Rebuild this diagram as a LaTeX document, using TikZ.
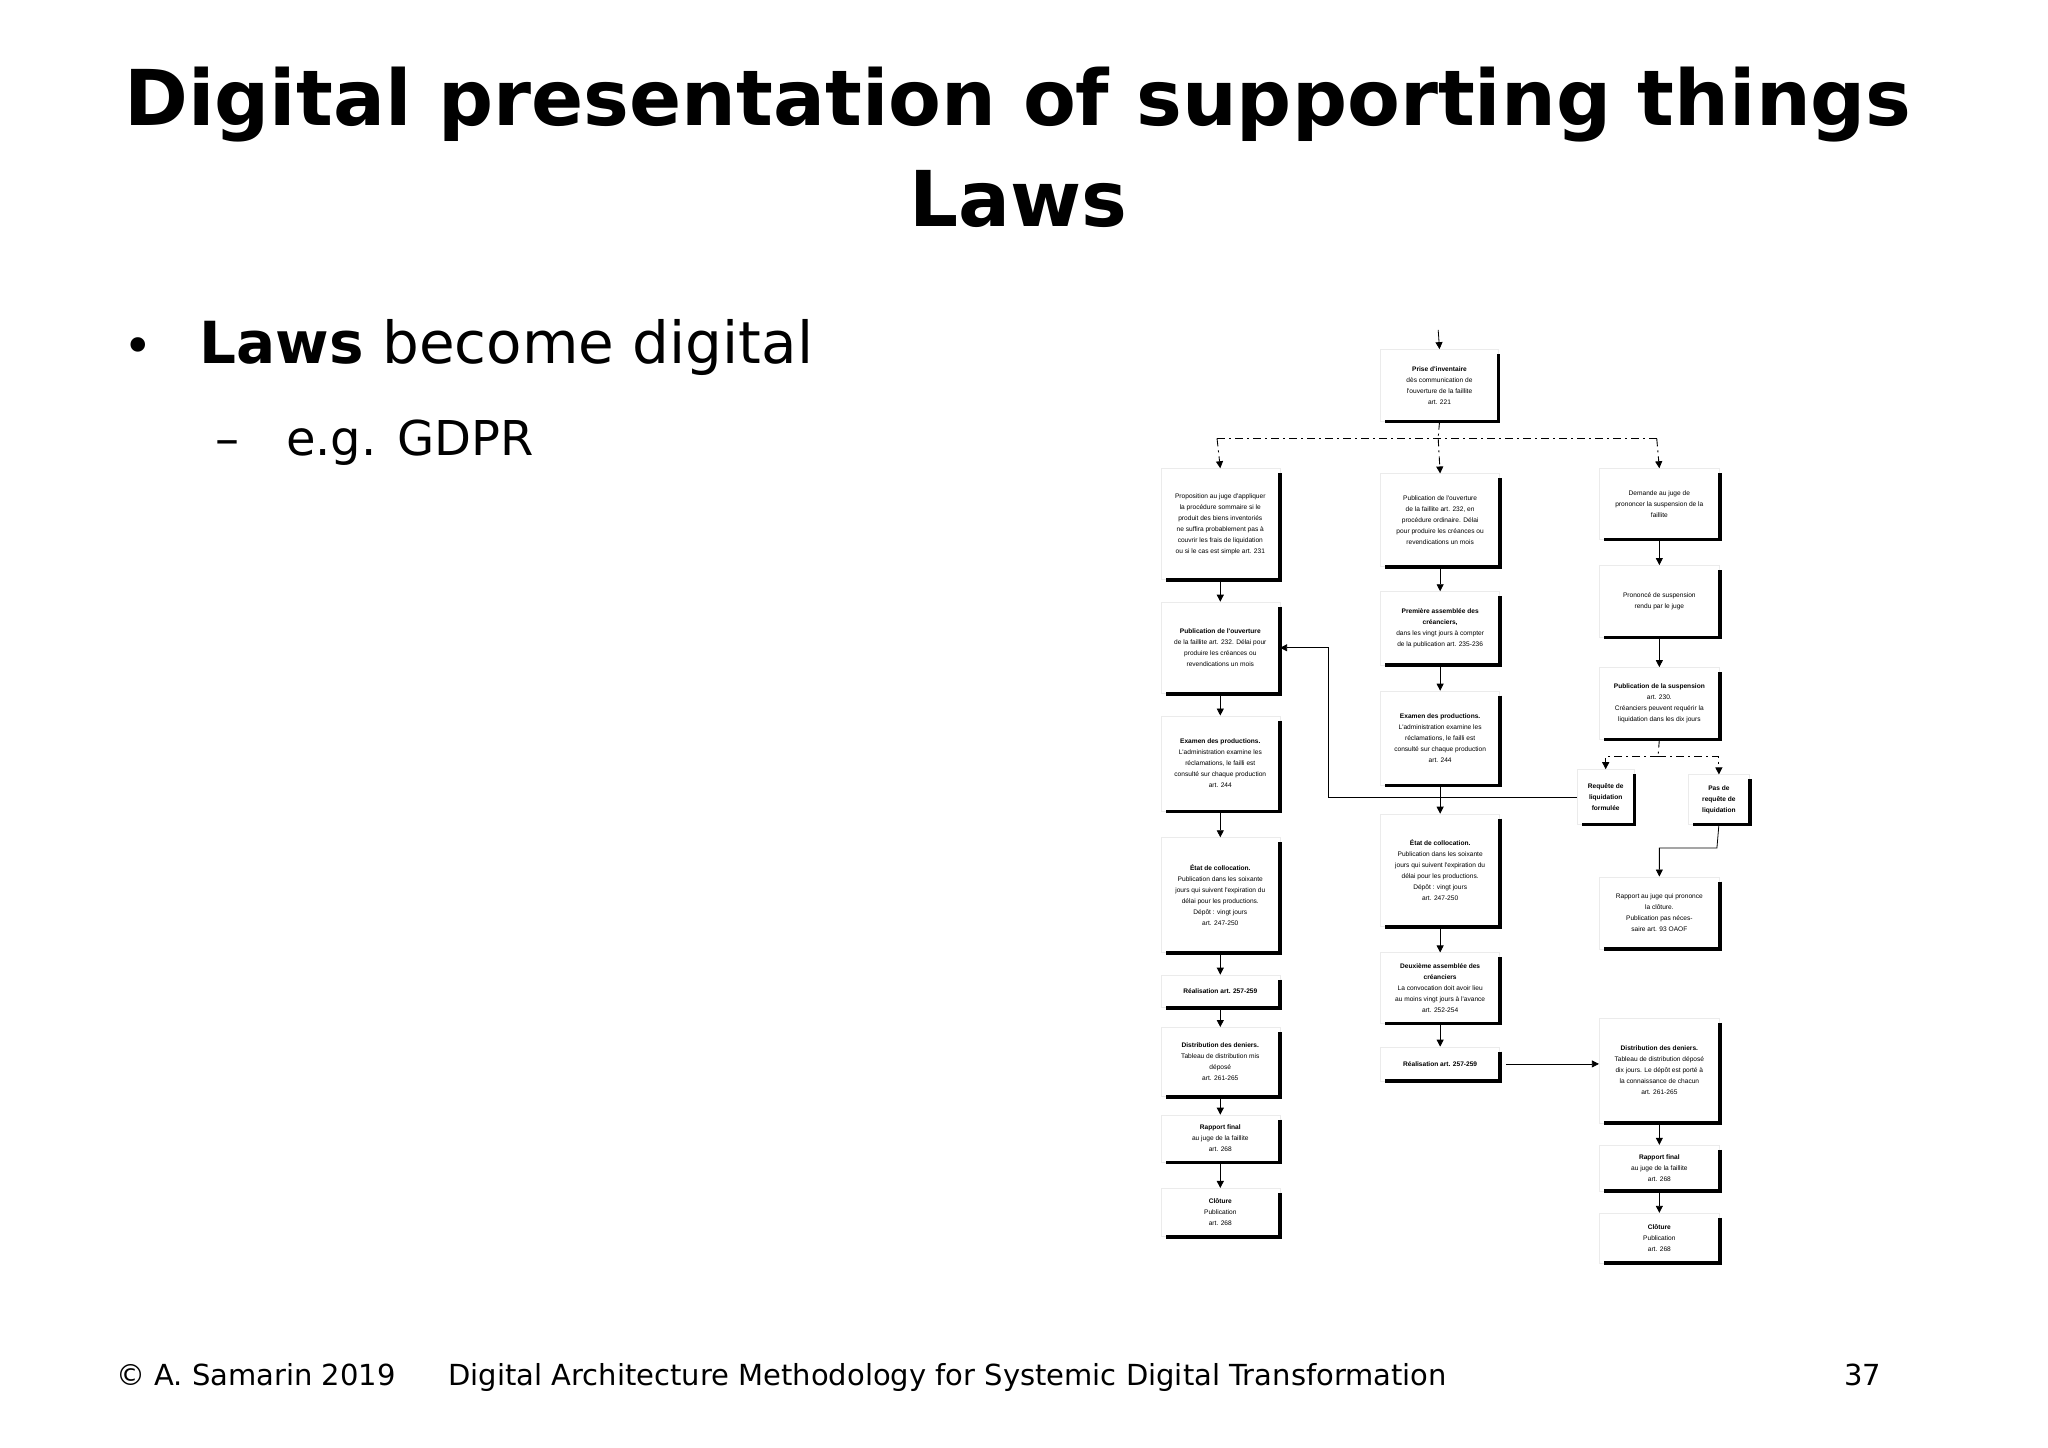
\documentclass[tikz,border=0pt]{standalone}
\usepackage{fontspec}
\setmainfont{DejaVu Sans}
\newfontfamily\boxfont{Liberation Sans}
\usetikzlibrary{arrows.meta}
\newcommand\bx[6]{%
 \node[bxs,minimum width={(#4-#2)*1.3086pt},minimum height={(#5-#3)*1.3086pt}] (#1) at ({(#2+#4)/2},{(#3+#5)/2}) {#6};
 \draw[line width=3.5pt] ([yshift=-5pt]#1.north east) -- (#1.south east) -- ([xshift=5pt]#1.south west);}
\begin{document}
\begin{tikzpicture}[x=1.3086pt,y=-1.3086pt,
 bxs/.style={draw=black!8,line width=0.5pt,inner sep=1pt,align=center,font=\boxfont\fontsize{6.6}{11}\selectfont},
 ar/.style={-{Triangle[width=7pt,length=7pt]},line width=0.8pt},
 dd/.style={line width=0.9pt,dash pattern=on 8pt off 4pt on 2pt off 4pt}]
\useasboundingbox (0,0) rectangle (1565,1106.5);
% title
\node[font=\bfseries\fontsize{77}{90}\selectfont] (t1) at (778,80) {Digital presentation of supporting things};
\node[font=\bfseries\fontsize{77}{90}\selectfont] (t2) at (778,152) {Laws};
\node[anchor=base west,font=\fontsize{50}{60}\selectfont] (b1) at (92,278) {•};
\node[anchor=base west,font=\fontsize{58}{70}\selectfont] (b1t) at (150,278) {\textbf{Laws} become digital};
\node[anchor=base west,font=\fontsize{48}{56}\selectfont] (b2) at (162,348) {–};
\node[anchor=base west,font=\fontsize{48}{56}\selectfont] (b2t) at (216,348) {e.g. GDPR};
\node[anchor=base west,font=\fontsize{29}{34}\selectfont] (f1) at (86,1059) {© A. Samarin 2019};
\node[anchor=base west,font=\fontsize{29}{34}\selectfont] (f2) at (340,1059) {Digital Architecture Methodology for Systemic Digital Transformation};
\node[anchor=base east,font=\fontsize{29}{34}\selectfont] (f3) at (1440,1059) {37};
% boxes
\bx{T}{1055}{267}{1145}{322}{\textbf{Prise d'inventaire}\\dès communication de\\l'ouverture de la faillite\\art. 221}
\bx{L1}{887}{358}{978}{443}{Proposition au juge d'appliquer\\la procédure sommaire si le\\produit des biens inventoriés\\ne suffira probablement pas à\\couvrir les frais de liquidation\\ou si le cas est simple art. 231}
\bx{L2}{887}{460}{978}{530}{\textbf{Publication de l'ouverture}\\de la faillite art. 232. Délai pour\\produire les créances ou\\revendications un mois}
\bx{L3}{887}{547}{978}{620}{\textbf{Examen des productions.}\\L'administration examine les\\réclamations, le failli est\\consulté sur chaque production\\art. 244}
\bx{L4}{887}{640}{978}{728}{\textbf{État de collocation.}\\Publication dans les soixante\\jours qui suivent l'expiration du\\délai pour les productions.\\Dépôt : vingt jours\\art. 247-250}
\bx{L5}{887}{745}{978}{770}{\textbf{Réalisation art. 257-259}}
\bx{L6}{887}{785}{978}{838}{\textbf{Distribution des deniers.}\\Tableau de distribution mis\\déposé\\art. 261-265}
\bx{L7}{887}{852}{978}{888}{\textbf{Rapport final}\\au juge de la faillite\\art. 268}
\bx{L8}{887}{908}{978}{945}{\textbf{Clôture}\\Publication\\art. 268}
\bx{M1}{1055}{362}{1146}{433}{Publication de l'ouverture\\de la faillite art. 232, en\\procédure ordinaire. Délai\\pour produire les créances ou\\revendications un mois}
\bx{M2}{1055}{452}{1146}{508}{\textbf{Première assemblée des}\\\textbf{créanciers,}\\dans les vingt jours à compter\\de la publication art. 235-236}
\bx{M3}{1055}{528}{1146}{600}{\textbf{Examen des productions.}\\L'administration examine les\\réclamations, le failli est\\consulté sur chaque production\\art. 244}
\bx{M4}{1055}{622}{1146}{708}{\textbf{État de collocation.}\\Publication dans les soixante\\jours qui suivent l'expiration du\\délai pour les productions.\\Dépôt : vingt jours\\art. 247-250}
\bx{M5}{1055}{728}{1146}{782}{\textbf{Deuxième assemblée des}\\\textbf{créanciers}\\La convocation doit avoir lieu\\au moins vingt jours à l'avance\\art. 252-254}
\bx{M6}{1055}{800}{1146}{826}{\textbf{Réalisation art. 257-259}}
\bx{R1}{1222}{358}{1314}{412}{Demande au juge de\\prononcer la suspension de la\\faillite}
\bx{R2}{1222}{432}{1314}{487}{Prononcé de suspension\\rendu par le juge}
\bx{R3}{1222}{510}{1314}{565}{\textbf{Publication de la suspension}\\art. 230.\\Créanciers peuvent requérir la\\liquidation dans les dix jours}
\bx{RA}{1205}{588}{1249}{630}{\textbf{Requête de}\\\textbf{liquidation}\\\textbf{formulée}}
\bx{RB}{1290}{592}{1337}{630}{\textbf{Pas de}\\\textbf{requête de}\\\textbf{liquidation}}
\bx{R5}{1222}{670}{1314}{725}{Rapport au juge qui prononce\\la clôture.\\Publication pas néces-\\saire art. 93 OAOF}
\bx{R6}{1222}{778}{1314}{858}{\textbf{Distribution des deniers.}\\Tableau de distribution déposé\\dix jours. Le dépôt est porté à\\la connaissance de chacun\\art. 261-265}
\bx{R7}{1222}{875}{1314}{910}{\textbf{Rapport final}\\au juge de la faillite\\art. 268}
\bx{R8}{1222}{927}{1314}{965}{\textbf{Clôture}\\Publication\\art. 268}
% connectors
\coordinate (in) at (1099,252);
\draw[ar] (in) -- (T.north);
\coordinate (dl) at (930,335); \coordinate (dm) at (1099,335); \coordinate (dr) at (1266,335);
\draw[dd] (T.south) -- (dm);
\draw[dd] (dl) -- (dr);
\draw[ar,dd] (dl) -- (L1.north);
\draw[ar,dd] (dm) -- (M1.north);
\draw[ar,dd] (dr) -- (R1.north);
\foreach \a/\b in {L1/L2,L2/L3,L3/L4,L4/L5,L5/L6,L6/L7,L7/L8,M1/M2,M2/M3,M3/M4,M4/M5,M5/M6,R1/R2,R2/R3,R6/R7,R7/R8}
 \draw[ar] (\a.south) -- (\b.north);
\coordinate (sp) at (1267,578);
\draw[dd] (R3.south) -- (sp);
\draw[ar,dd] (sp) -| (RA.north);
\draw[ar,dd] (sp) -| (RB.north);
\draw[ar] (RA.west) -- (1015,609) |- (L2.east);
\draw[ar] (RB.south) -- (1312,648) -| (R5.north);
\draw[ar] ([xshift=6pt]M6.east) -- (M6.east -| R6.west);
\end{tikzpicture}
\end{document}
